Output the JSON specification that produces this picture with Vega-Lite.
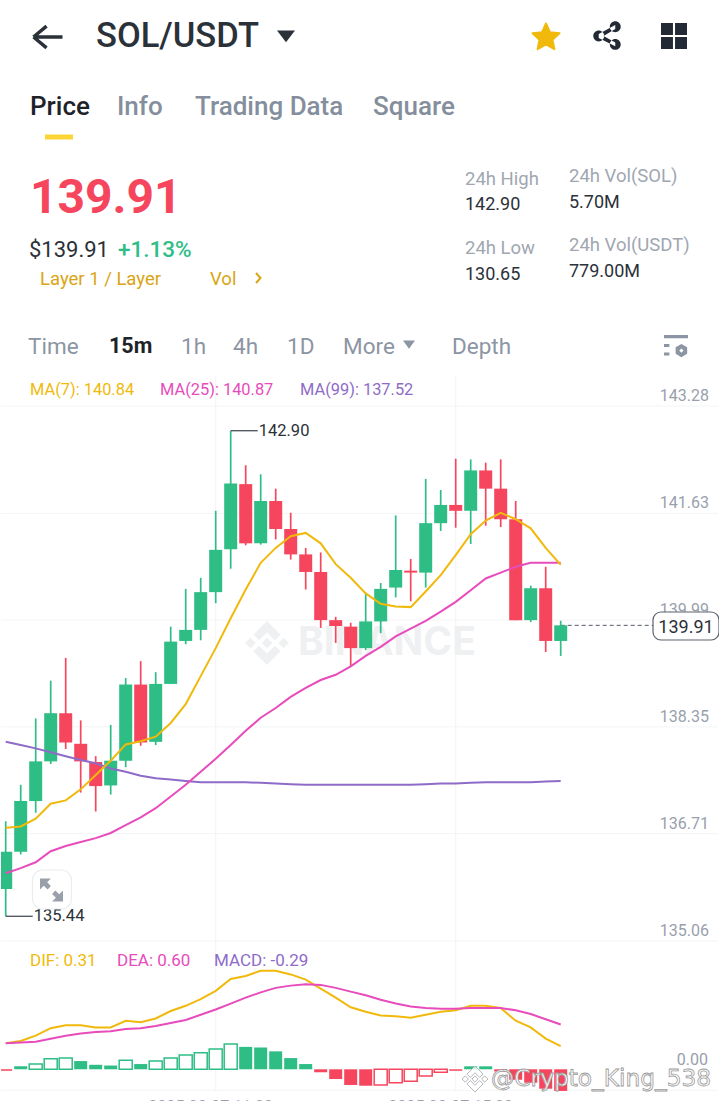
{"$schema":"https://vega.github.io/schema/vega-lite/v6.json","width":719,"height":1101,"padding":0,"autosize":{"type":"fit","contains":"padding"},"background":"#ffffff","config":{"view":{"stroke":null},"text":{"font":"Roboto","align":"left","baseline":"middle"},"style":{"head":{"fontSize":34.5,"fontWeight":500,"color":"#2B3139"},"tabon":{"fontSize":26,"fontWeight":500,"color":"#1E2329"},"tab":{"fontSize":26,"fontWeight":500,"color":"#848E9C"},"stat":{"fontSize":18.5,"color":"#A0A7B1"},"val":{"fontSize":18,"color":"#2B3139"},"gold":{"fontSize":18.5,"color":"#D9A514"},"frame":{"fontSize":22.5,"color":"#8C95A3"},"ma7":{"fontSize":16.4,"color":"#F0B90B"},"ma25":{"fontSize":16.4,"color":"#E84BBB"},"ma99":{"fontSize":16.4,"color":"#8E6BC8"},"tick":{"fontSize":16,"color":"#98A0AC"}}},"data":{"values":[{"panel":"chrome"}]},"datasets":{"bars":[{"t":"2025-03-07T07:30:00","open":135.86,"close":136.43,"high":136.9,"low":135.44,"ma7":136.8,"ma25":136.1,"ma99":138.12,"dif":0.35,"dea":0.35,"hist":-0.02,"rising":false},{"t":"2025-03-07T07:45:00","open":136.43,"close":137.21,"high":137.46,"low":136.39,"ma7":136.82,"ma25":136.18,"ma99":138.07,"dif":0.38,"dea":0.36,"hist":0.04,"rising":false},{"t":"2025-03-07T08:00:00","open":137.21,"close":137.82,"high":138.48,"low":137.03,"ma7":136.94,"ma25":136.27,"ma99":138.02,"dif":0.45,"dea":0.37,"hist":0.07,"rising":true},{"t":"2025-03-07T08:15:00","open":137.82,"close":138.56,"high":139.06,"low":137.78,"ma7":137.17,"ma25":136.44,"ma99":137.96,"dif":0.55,"dea":0.41,"hist":0.14,"rising":true},{"t":"2025-03-07T08:30:00","open":138.56,"close":138.11,"high":139.41,"low":138.01,"ma7":137.22,"ma25":136.52,"ma99":137.9,"dif":0.59,"dea":0.45,"hist":0.15,"rising":true},{"t":"2025-03-07T08:45:00","open":138.09,"close":137.82,"high":138.45,"low":137.34,"ma7":137.39,"ma25":136.58,"ma99":137.84,"dif":0.59,"dea":0.48,"hist":0.11,"rising":false},{"t":"2025-03-07T09:00:00","open":137.81,"close":137.44,"high":137.9,"low":137.05,"ma7":137.61,"ma25":136.64,"ma99":137.79,"dif":0.56,"dea":0.5,"hist":0.06,"rising":false},{"t":"2025-03-07T09:15:00","open":137.45,"close":137.83,"high":138.38,"low":137.31,"ma7":137.83,"ma25":136.72,"ma99":137.71,"dif":0.56,"dea":0.51,"hist":0.05,"rising":false},{"t":"2025-03-07T09:30:00","open":137.83,"close":139,"high":139.1,"low":137.73,"ma7":138.08,"ma25":136.84,"ma99":137.66,"dif":0.65,"dea":0.54,"hist":0.12,"rising":true},{"t":"2025-03-07T09:45:00","open":139,"close":138.11,"high":139.36,"low":138.06,"ma7":138.13,"ma25":136.96,"ma99":137.6,"dif":0.63,"dea":0.55,"hist":0.07,"rising":false},{"t":"2025-03-07T10:00:00","open":138.12,"close":139.01,"high":139.19,"low":138.07,"ma7":138.2,"ma25":137.1,"ma99":137.56,"dif":0.68,"dea":0.58,"hist":0.11,"rising":true},{"t":"2025-03-07T10:15:00","open":139.01,"close":139.66,"high":139.89,"low":139.01,"ma7":138.41,"ma25":137.28,"ma99":137.54,"dif":0.78,"dea":0.62,"hist":0.15,"rising":true},{"t":"2025-03-07T10:30:00","open":139.67,"close":139.84,"high":140.47,"low":139.62,"ma7":138.7,"ma25":137.46,"ma99":137.52,"dif":0.85,"dea":0.66,"hist":0.19,"rising":true},{"t":"2025-03-07T10:45:00","open":139.84,"close":140.42,"high":140.64,"low":139.68,"ma7":139.13,"ma25":137.66,"ma99":137.5,"dif":0.94,"dea":0.73,"hist":0.22,"rising":true},{"t":"2025-03-07T11:00:00","open":140.42,"close":141.07,"high":141.67,"low":140.25,"ma7":139.56,"ma25":137.86,"ma99":137.5,"dif":1.05,"dea":0.8,"hist":0.27,"rising":true},{"t":"2025-03-07T11:15:00","open":141.08,"close":142.09,"high":142.9,"low":140.78,"ma7":140.02,"ma25":138.07,"ma99":137.5,"dif":1.21,"dea":0.88,"hist":0.34,"rising":true},{"t":"2025-03-07T11:30:00","open":142.08,"close":141.17,"high":142.37,"low":141.14,"ma7":140.46,"ma25":138.29,"ma99":137.5,"dif":1.25,"dea":0.96,"hist":0.3,"rising":false},{"t":"2025-03-07T11:45:00","open":141.17,"close":141.82,"high":142.23,"low":141.15,"ma7":140.87,"ma25":138.49,"ma99":137.49,"dif":1.32,"dea":1.03,"hist":0.29,"rising":false},{"t":"2025-03-07T12:00:00","open":141.82,"close":141.39,"high":142.01,"low":141.23,"ma7":141.1,"ma25":138.64,"ma99":137.48,"dif":1.32,"dea":1.09,"hist":0.24,"rising":false},{"t":"2025-03-07T12:15:00","open":141.39,"close":141,"high":141.64,"low":140.92,"ma7":141.28,"ma25":138.81,"ma99":137.47,"dif":1.27,"dea":1.12,"hist":0.15,"rising":false},{"t":"2025-03-07T12:30:00","open":141,"close":140.73,"high":141.1,"low":140.46,"ma7":141.33,"ma25":138.95,"ma99":137.46,"dif":1.2,"dea":1.14,"hist":0.07,"rising":false},{"t":"2025-03-07T12:45:00","open":140.73,"close":139.99,"high":141.03,"low":139.87,"ma7":141.17,"ma25":139.07,"ma99":137.46,"dif":1.08,"dea":1.13,"hist":-0.04,"rising":false},{"t":"2025-03-07T13:00:00","open":139.99,"close":139.9,"high":140.04,"low":139.64,"ma7":140.85,"ma25":139.15,"ma99":137.46,"dif":0.96,"dea":1.09,"hist":-0.13,"rising":false},{"t":"2025-03-07T13:15:00","open":139.89,"close":139.56,"high":139.95,"low":139.28,"ma7":140.64,"ma25":139.28,"ma99":137.46,"dif":0.83,"dea":1.04,"hist":-0.21,"rising":false},{"t":"2025-03-07T13:30:00","open":139.56,"close":139.97,"high":140.41,"low":139.53,"ma7":140.4,"ma25":139.44,"ma99":137.46,"dif":0.77,"dea":0.99,"hist":-0.22,"rising":false},{"t":"2025-03-07T13:45:00","open":139.97,"close":140.47,"high":140.56,"low":139.79,"ma7":140.24,"ma25":139.58,"ma99":137.46,"dif":0.72,"dea":0.93,"hist":-0.21,"rising":true},{"t":"2025-03-07T14:00:00","open":140.49,"close":140.76,"high":141.6,"low":140.34,"ma7":140.2,"ma25":139.74,"ma99":137.46,"dif":0.71,"dea":0.88,"hist":-0.18,"rising":true},{"t":"2025-03-07T14:15:00","open":140.75,"close":140.72,"high":140.93,"low":140.28,"ma7":140.19,"ma25":139.86,"ma99":137.46,"dif":0.69,"dea":0.84,"hist":-0.16,"rising":true},{"t":"2025-03-07T14:30:00","open":140.72,"close":141.48,"high":142.16,"low":140.49,"ma7":140.43,"ma25":139.98,"ma99":137.47,"dif":0.73,"dea":0.82,"hist":-0.09,"rising":true},{"t":"2025-03-07T14:45:00","open":141.48,"close":141.76,"high":141.99,"low":141.36,"ma7":140.68,"ma25":140.12,"ma99":137.48,"dif":0.77,"dea":0.81,"hist":-0.04,"rising":true},{"t":"2025-03-07T15:00:00","open":141.76,"close":141.67,"high":142.47,"low":141.41,"ma7":140.99,"ma25":140.27,"ma99":137.48,"dif":0.79,"dea":0.81,"hist":-0.02,"rising":false},{"t":"2025-03-07T15:15:00","open":141.67,"close":142.29,"high":142.46,"low":141.16,"ma7":141.31,"ma25":140.45,"ma99":137.49,"dif":0.85,"dea":0.82,"hist":0.04,"rising":false},{"t":"2025-03-07T15:30:00","open":142.29,"close":142.01,"high":142.41,"low":141.44,"ma7":141.52,"ma25":140.63,"ma99":137.5,"dif":0.85,"dea":0.82,"hist":0.04,"rising":false},{"t":"2025-03-07T15:45:00","open":142.01,"close":141.54,"high":142.46,"low":141.42,"ma7":141.64,"ma25":140.72,"ma99":137.5,"dif":0.82,"dea":0.82,"hist":-0.03,"rising":false},{"t":"2025-03-07T16:00:00","open":141.54,"close":139.99,"high":141.82,"low":139.99,"ma7":141.54,"ma25":140.81,"ma99":137.5,"dif":0.65,"dea":0.79,"hist":-0.14,"rising":false},{"t":"2025-03-07T16:15:00","open":139.99,"close":140.48,"high":140.52,"low":139.96,"ma7":141.4,"ma25":140.87,"ma99":137.5,"dif":0.56,"dea":0.74,"hist":-0.18,"rising":false},{"t":"2025-03-07T16:30:00","open":140.48,"close":139.67,"high":140.81,"low":139.5,"ma7":141.1,"ma25":140.87,"ma99":137.51,"dif":0.41,"dea":0.67,"hist":-0.26,"rising":false},{"t":"2025-03-07T16:45:00","open":139.67,"close":139.91,"high":139.98,"low":139.44,"ma7":140.84,"ma25":140.87,"ma99":137.52,"dif":0.31,"dea":0.6,"hist":-0.29,"rising":false}],"priceTicks":[{"price":143.28},{"price":141.63},{"price":139.99},{"price":138.35},{"price":136.71},{"price":135.06}],"extremes":[{"t":"2025-03-07T11:15:00","to":"2025-03-07T11:42:00","price":142.9},{"t":"2025-03-07T07:30:00","to":"2025-03-07T07:57:00","price":135.44}],"last":[{"t":"2025-03-07T16:45:00","price":139.91}],"timeTicks":[{"t":"2025-03-07T11:00:00"},{"t":"2025-03-07T15:00:00"}],"macdTicks":[{"v":0}],"macdFloor":[{"v":-0.28}]},"resolve":{"scale":{"y":"independent"}},"layer":[{"data":{"name":"timeTicks"},"mark":{"type":"rule","color":"#F3F4F6","strokeWidth":1},"encoding":{"x":{"field":"t","type":"temporal","axis":null,"scale":{"nice":false,"padding":0,"domain":["2025-03-07T07:30:00","2025-03-07T17:00:00"],"range":[4.7,574.7]}},"y":{"value":375},"y2":{"value":1090}}},{"data":{"name":"timeTicks"},"mark":{"type":"text","clip":true,"align":"center","baseline":"top","dx":-5,"fontSize":16,"fill":"#98A0AC"},"encoding":{"x":{"field":"t","type":"temporal","axis":null,"scale":{"nice":false,"padding":0,"domain":["2025-03-07T07:30:00","2025-03-07T17:00:00"],"range":[4.7,574.7]}},"y":{"value":1098},"text":{"field":"t","type":"temporal","format":"%Y-%m-%d %H:%M"}}},{"mark":{"type":"point","shape":"M0,-1L0.62,-0.38L0.36,-0.12L0,-0.48L-0.36,-0.12L-0.62,-0.38ZM0,1L0.62,0.38L0.36,0.12L0,0.48L-0.36,0.12L-0.62,0.38ZM0,-0.24L0.24,0L0,0.24L-0.24,0ZM-0.75,-0.24L-0.51,0L-0.75,0.24L-1,0ZM0.75,-0.24L1,0L0.75,0.24L0.51,0Z","filled":true,"fill":"#EEF0F2","opacity":1,"size":1936,"x":266,"y":642},"encoding":{}},{"mark":{"type":"text","text":"BINANCE","font":"Inter","fontWeight":700,"fontSize":39,"fill":"#EEF0F2","x":297,"y":642},"encoding":{}},{"layer":[{"data":{"name":"priceTicks"},"mark":{"type":"rule","color":"#F3F4F6","strokeWidth":1},"encoding":{"y":{"field":"price","type":"quantitative","axis":null,"scale":{"domain":[135.06,143.28],"range":[940,405]}}}},{"data":{"name":"priceTicks"},"mark":{"type":"text","style":"tick","align":"right","dy":-10},"encoding":{"x":{"value":708},"y":{"field":"price","type":"quantitative","axis":null,"scale":{"domain":[135.06,143.28],"range":[940,405]}},"text":{"field":"price","type":"quantitative","format":".2f"}}},{"data":{"name":"last"},"mark":{"type":"rule","color":"#555B66","strokeWidth":1,"strokeDash":[4,3]},"encoding":{"x":{"field":"t","type":"temporal","axis":null,"scale":{"nice":false,"padding":0,"domain":["2025-03-07T07:30:00","2025-03-07T17:00:00"],"range":[4.7,574.7]}},"x2":{"value":652},"y":{"field":"price","type":"quantitative","axis":null,"scale":{"domain":[135.06,143.28],"range":[940,405]}}}},{"data":{"name":"bars"},"encoding":{"x":{"field":"t","type":"temporal","axis":null,"scale":{"nice":false,"padding":0,"domain":["2025-03-07T07:30:00","2025-03-07T17:00:00"],"range":[4.7,574.7]}},"color":{"condition":{"test":"datum.close >= datum.open","value":"#2EBD85"},"value":"#F6465D"}},"layer":[{"mark":{"type":"rule","strokeWidth":1.7},"encoding":{"y":{"field":"low","type":"quantitative","axis":null,"scale":{"domain":[135.06,143.28],"range":[940,405]}},"y2":{"field":"high"}}},{"mark":{"type":"bar","size":13,"clip":true},"encoding":{"y":{"field":"open","type":"quantitative","axis":null,"scale":{"domain":[135.06,143.28],"range":[940,405]}},"y2":{"field":"close"}}}]},{"data":{"name":"bars"},"encoding":{"x":{"field":"t","type":"temporal","axis":null,"scale":{"nice":false,"padding":0,"domain":["2025-03-07T07:30:00","2025-03-07T17:00:00"],"range":[4.7,574.7]}}},"layer":[{"mark":{"type":"line","color":"#8E6BC8","strokeWidth":2},"encoding":{"y":{"field":"ma99","type":"quantitative","axis":null,"scale":{"domain":[135.06,143.28],"range":[940,405]}}}},{"mark":{"type":"line","color":"#E84BBB","strokeWidth":2},"encoding":{"y":{"field":"ma25","type":"quantitative","axis":null,"scale":{"domain":[135.06,143.28],"range":[940,405]}}}},{"mark":{"type":"line","color":"#F0B90B","strokeWidth":2},"encoding":{"y":{"field":"ma7","type":"quantitative","axis":null,"scale":{"domain":[135.06,143.28],"range":[940,405]}}}}]},{"data":{"name":"extremes"},"encoding":{"x":{"field":"t","type":"temporal","axis":null,"scale":{"nice":false,"padding":0,"domain":["2025-03-07T07:30:00","2025-03-07T17:00:00"],"range":[4.7,574.7]}},"y":{"field":"price","type":"quantitative","axis":null,"scale":{"domain":[135.06,143.28],"range":[940,405]}}},"layer":[{"mark":{"type":"rule","color":"#3A404A","strokeWidth":1.2},"encoding":{"x2":{"field":"to"}}},{"mark":{"type":"text","fontSize":16.5,"fill":"#2B3139","dx":1},"encoding":{"x":{"field":"to","type":"temporal"},"text":{"field":"price","type":"quantitative","format":".2f"}}}]},{"mark":{"type":"rect","x":652,"x2":718,"y":611,"y2":639,"cornerRadius":8,"fill":"#ffffff","stroke":"#5C626C","strokeWidth":1.2},"encoding":{}},{"data":{"name":"last"},"mark":{"type":"text","align":"center","fontSize":18,"fill":"#2B3139","dy":2.5},"encoding":{"x":{"value":685},"y":{"field":"price","type":"quantitative","axis":null,"scale":{"domain":[135.06,143.28],"range":[940,405]}},"text":{"field":"price","type":"quantitative","format":".2f"}}}]},{"layer":[{"data":{"name":"macdFloor"},"mark":{"type":"rule","color":"#F3F4F6","strokeWidth":1},"encoding":{"y":{"field":"v","type":"quantitative","axis":null,"scale":{"domain":[-0.28,1.7175],"range":[1089.2,940]}}}},{"data":{"name":"macdTicks"},"mark":{"type":"text","style":"tick","align":"right","dy":-9},"encoding":{"x":{"value":707},"y":{"field":"v","type":"quantitative","axis":null,"scale":{"domain":[-0.28,1.7175],"range":[1089.2,940]}},"text":{"field":"v","type":"quantitative","format":".2f"}}},{"data":{"name":"bars"},"encoding":{"x":{"field":"t","type":"temporal","axis":null,"scale":{"nice":false,"padding":0,"domain":["2025-03-07T07:30:00","2025-03-07T17:00:00"],"range":[4.7,574.7]}}},"layer":[{"mark":{"type":"bar","size":13,"clip":true},"encoding":{"y":{"field":"hist","type":"quantitative","axis":null,"stack":null,"scale":{"domain":[-0.28,1.7175],"range":[1089.2,940]}},"fill":{"condition":[{"test":"datum.rising","value":"#ffffff"},{"test":"datum.hist >= 0","value":"#2EBD85"}],"value":"#F6465D"},"stroke":{"condition":{"test":"datum.hist >= 0","value":"#2EBD85"},"value":"#F6465D"},"strokeWidth":{"condition":{"test":"datum.rising","value":1.5},"value":0}}},{"mark":{"type":"line","color":"#F0B90B","strokeWidth":2},"encoding":{"y":{"field":"dif","type":"quantitative","axis":null,"scale":{"domain":[-0.28,1.7175],"range":[1089.2,940]}}}},{"mark":{"type":"line","color":"#E84BBB","strokeWidth":2},"encoding":{"y":{"field":"dea","type":"quantitative","axis":null,"scale":{"domain":[-0.28,1.7175],"range":[1089.2,940]}}}}]}]},{"mark":{"type":"rule","color":"#EAECEF","strokeWidth":1,"x":0,"x2":719,"y":139,"y2":139},"encoding":{}},{"mark":{"type":"rule","color":"#F0F1F3","strokeWidth":1.5,"x":0,"x2":719,"y":373,"y2":373},"encoding":{}},{"mark":{"type":"rule","color":"#F3F4F6","strokeWidth":1,"x":0,"x2":719,"y":940,"y2":940},"encoding":{}},{"mark":{"type":"rect","x":44,"x2":72,"y":133.5,"y2":138.5,"fill":"#FCD535"},"encoding":{}},{"mark":{"type":"point","shape":"M-1,0H1M-1,0L-0.1,-0.75M-1,0L-0.1,0.75","filled":false,"stroke":"#2B3139","strokeWidth":3.5,"opacity":1,"size":841,"x":47,"y":36},"encoding":{}},{"mark":{"type":"text","style":"head","text":"SOL/USDT","x":95,"y":36},"encoding":{}},{"mark":{"type":"point","shape":"M-1,-0.6H1L0,0.7Z","filled":true,"fill":"#2B3139","opacity":1,"size":324,"x":285,"y":35},"encoding":{}},{"mark":{"type":"point","shape":"M0,-1L0.29,-0.36L1,-0.27L0.48,0.2L0.62,0.9L0,0.55L-0.62,0.9L-0.48,0.2L-1,-0.27L-0.29,-0.36Z","filled":true,"fill":"#F0B90B","stroke":"#F0B90B","strokeWidth":2,"strokeJoin":"round","opacity":1,"size":729,"x":545,"y":36},"encoding":{}},{"mark":{"type":"point","shape":"M0.98,-0.66A0.39,0.39 0 1 1 0.2,-0.66A0.39,0.39 0 1 1 0.98,-0.66ZM-0.2,0A0.39,0.39 0 1 1 -0.98,0A0.39,0.39 0 1 1 -0.2,0ZM0.98,0.6A0.39,0.39 0 1 1 0.2,0.6A0.39,0.39 0 1 1 0.98,0.6ZM0.59,-0.78L-0.59,-0.14L-0.59,0.14L0.59,0.74L0.59,0.46L-0.25,0L0.59,-0.5Z","filled":true,"fill":"#232A35","opacity":1,"size":784,"x":606,"y":35},"encoding":{}},{"mark":{"type":"point","shape":"M-1,-1H-0.08V-0.08H-1ZM0.08,-1H1V-0.08H0.08ZM-1,0.08H-0.08V1H-1ZM0.08,0.08H1V1H0.08Z","filled":true,"fill":"#232A35","opacity":1,"size":676,"x":673,"y":35},"encoding":{}},{"mark":{"type":"text","style":"tabon","text":"Price","x":29,"y":106},"encoding":{}},{"mark":{"type":"text","style":"tab","text":"Info","x":116,"y":106},"encoding":{}},{"mark":{"type":"text","style":"tab","text":"Trading Data","x":194,"y":106},"encoding":{}},{"mark":{"type":"text","style":"tab","text":"Square","x":372,"y":106},"encoding":{}},{"mark":{"type":"text","text":"139.91","fontSize":48,"fontWeight":700,"fill":"#F6465D","x":29,"y":198},"encoding":{}},{"mark":{"type":"text","style":"val","text":"$139.91","fontSize":22,"x":28,"y":249},"encoding":{}},{"mark":{"type":"text","text":"+1.13%","fontSize":22.5,"fontWeight":500,"fill":"#2EBD85","x":117,"y":249},"encoding":{}},{"mark":{"type":"text","style":"gold","text":"Layer 1 / Layer","x":39,"y":278},"encoding":{}},{"mark":{"type":"rule","color":"#EEEFF1","strokeWidth":1,"x":191,"x2":191,"y":272,"y2":284},"encoding":{}},{"mark":{"type":"text","style":"gold","text":"Vol","x":209,"y":278},"encoding":{}},{"mark":{"type":"point","shape":"M-0.4,-1L0.5,0L-0.4,1","filled":false,"stroke":"#D9A514","strokeWidth":2,"opacity":1,"size":100,"x":257,"y":277},"encoding":{}},{"mark":{"type":"text","style":"stat","text":"24h High","x":464,"y":178},"encoding":{}},{"mark":{"type":"text","style":"val","text":"142.90","x":464,"y":204},"encoding":{}},{"mark":{"type":"text","style":"stat","text":"24h Low","x":464,"y":247},"encoding":{}},{"mark":{"type":"text","style":"val","text":"130.65","x":464,"y":274},"encoding":{}},{"mark":{"type":"text","style":"stat","text":"24h Vol(SOL)","x":568,"y":175},"encoding":{}},{"mark":{"type":"text","style":"val","text":"5.70M","x":568,"y":202},"encoding":{}},{"mark":{"type":"text","style":"stat","text":"24h Vol(USDT)","x":568,"y":244},"encoding":{}},{"mark":{"type":"text","style":"val","text":"779.00M","x":568,"y":271},"encoding":{}},{"mark":{"type":"text","style":"frame","text":"Time","x":27,"y":346},"encoding":{}},{"mark":{"type":"text","style":"frame","text":"15m","fontSize":21.5,"fontWeight":700,"fill":"#1E2329","x":108,"y":346},"encoding":{}},{"mark":{"type":"text","style":"frame","text":"1h","x":180,"y":346},"encoding":{}},{"mark":{"type":"text","style":"frame","text":"4h","x":232,"y":346},"encoding":{}},{"mark":{"type":"text","style":"frame","text":"1D","x":286,"y":346},"encoding":{}},{"mark":{"type":"text","style":"frame","text":"More","x":342,"y":346},"encoding":{}},{"mark":{"type":"point","shape":"M-1,-0.6H1L0,0.8Z","filled":true,"fill":"#8C95A3","opacity":1,"size":144,"x":408,"y":343},"encoding":{}},{"mark":{"type":"text","style":"frame","text":"Depth","x":451,"y":346},"encoding":{}},{"mark":{"type":"rule","color":"#EAECEF","strokeWidth":1,"x":648,"x2":648,"y":335,"y2":357},"encoding":{}},{"mark":{"type":"point","shape":"M-1,-1H1V-0.72H-1ZM-1,-0.25H-0.55V0H-1ZM-1,0.45H-0.55V0.7H-1ZM0.45,-0.25L0.93,0.03L0.93,0.57L0.45,0.85L-0.03,0.57L-0.03,0.03ZM0.45,0.12L0.27,0.3L0.45,0.48L0.63,0.3Z","filled":true,"fill":"#8C95A3","opacity":1,"size":576,"x":675,"y":346},"encoding":{}},{"mark":{"type":"text","style":"ma7","text":"MA(7): 140.84","x":29,"y":389},"encoding":{}},{"mark":{"type":"text","style":"ma25","text":"MA(25): 140.87","x":159,"y":389},"encoding":{}},{"mark":{"type":"text","style":"ma99","text":"MA(99): 137.52","x":299,"y":389},"encoding":{}},{"mark":{"type":"text","style":"ma7","text":"DIF: 0.31","fontSize":17,"x":29,"y":960},"encoding":{}},{"mark":{"type":"text","style":"ma25","text":"DEA: 0.60","fontSize":17,"x":116,"y":960},"encoding":{}},{"mark":{"type":"text","style":"ma99","text":"MACD: -0.29","fontSize":17,"x":213,"y":960},"encoding":{}},{"mark":{"type":"rect","x":31.5,"x2":70.5,"y":869,"y2":908,"cornerRadius":10,"fill":"#ffffff","stroke":"#ECEDEF","strokeWidth":1.2},"encoding":{}},{"mark":{"type":"point","shape":"M-1,-1H-0.05L-0.38,-0.67L-0.05,-0.34L-0.34,-0.05L-0.67,-0.38L-1,-0.05ZM1,1H0.05L0.38,0.67L0.05,0.34L0.34,0.05L0.67,0.38L1,0.05Z","filled":true,"fill":"#9AA0AA","opacity":1,"size":529,"x":50.5,"y":889},"encoding":{}},{"mark":{"type":"point","shape":"M0,-1L0.62,-0.38L0.36,-0.12L0,-0.48L-0.36,-0.12L-0.62,-0.38ZM0,1L0.62,0.38L0.36,0.12L0,0.48L-0.36,0.12L-0.62,0.38ZM0,-0.24L0.24,0L0,0.24L-0.24,0ZM-0.75,-0.24L-0.51,0L-0.75,0.24L-1,0ZM0.75,-0.24L1,0L0.75,0.24L0.51,0Z","filled":true,"fill":"#ffffff","fillOpacity":0.75,"stroke":"#B5B8BD","strokeWidth":1,"opacity":1,"size":676,"x":474,"y":1078},"encoding":{}},{"mark":{"type":"text","text":"@Crypto_King_538","font":"DejaVu Sans","fontSize":23.3,"fill":"#ffffff","stroke":"#9A9A9A","strokeWidth":0.8,"x":490,"y":1078},"encoding":{}}]}
